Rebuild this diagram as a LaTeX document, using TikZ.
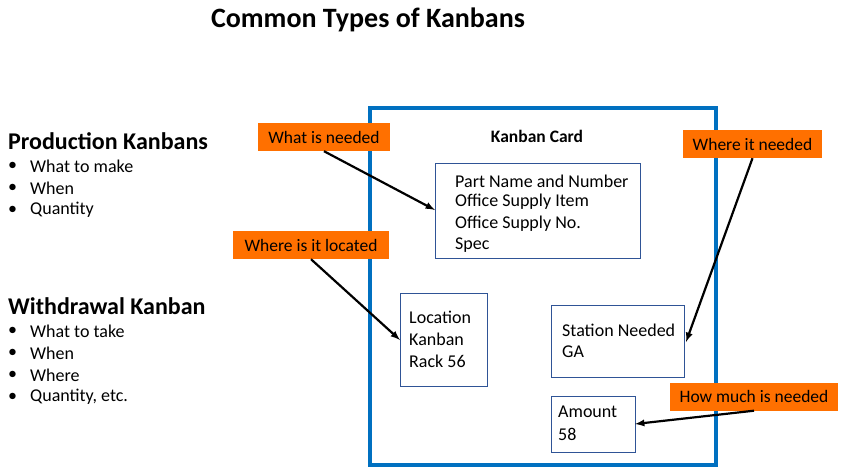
\documentclass[tikz,border=0pt]{standalone}
\usepackage{fontspec}
\setmainfont{Carlito}
\begin{document}
\begin{tikzpicture}[x=1pt,y=-1pt,
  txt/.style={anchor=west,inner sep=0pt,font=\fontsize{18}{21}\selectfont},
  lab/.style={fill=orange1,inner sep=0pt,font=\fontsize{17.5}{21}\selectfont,minimum height=28pt},
  box/.style={draw=dblue,line width=1.3pt},
  arr/.style={-latex,line width=2.2pt,black}]
\definecolor{orange1}{RGB}{255,112,0}
\definecolor{blue1}{RGB}{0,112,192}
\definecolor{dblue}{RGB}{47,84,150}
\useasboundingbox (0,0) rectangle (845,472);
\node[font=\bfseries\fontsize{28}{32}\selectfont] (title) at (368,20) {Common Types of Kanbans};
\draw[blue1,line width=4pt] (370,108) rectangle (716,465);
\node[font=\bfseries\fontsize{17.5}{20}\selectfont] (kc) at (537,136) {Kanban Card};
\node[box,minimum width=205pt,minimum height=95pt,anchor=north west] (b1) at (435,163) {};
\node[txt] (b1a) at (455,181) {Part Name and Number};
\node[txt] (b1b) at (455,202) {Office Supply Item};
\node[txt] (b1c) at (455,224) {Office Supply No.};
\node[txt] (b1d) at (455,245) {Spec};
\node[box,minimum width=87pt,minimum height=93pt,anchor=north west] (b2) at (400,293) {};
\node[txt] (b2a) at (409,317) {Location};
\node[txt] (b2b) at (409,339) {Kanban};
\node[txt] (b2c) at (409,361) {Rack 56};
\node[box,minimum width=133pt,minimum height=72pt,anchor=north west] (b3) at (551,305) {};
\node[txt] (b3a) at (562,330) {Station Needed};
\node[txt] (b3b) at (562,352) {GA};
\node[box,minimum width=84pt,minimum height=56pt,anchor=north west] (b4) at (551,396) {};
\node[txt] (b4a) at (558,412) {Amount};
\node[txt] (b4b) at (558,434) {58};
\node[lab,minimum width=132pt] (l1) at (324,137) {What is needed};
\node[lab,minimum width=139pt] (l2) at (752.5,144) {Where it needed};
\node[lab,minimum width=156pt] (l3) at (311,245) {Where is it located};
\node[lab,minimum width=168pt] (l4) at (754,396.5) {How much is needed};
\coordinate (t1) at (435,210);
\coordinate (t2) at (686,342);
\coordinate (t3) at (400,340);
\coordinate (t4) at (635,424);
\draw[arr] (l1.south) -- (t1);
\draw[arr] (l2.south) -- (t2);
\draw[arr] (l3.south) -- (t3);
\draw[arr] (l4.south) -- (t4);
\node[txt,font=\bfseries\fontsize{24}{28}\selectfont] (pk) at (8,141) {Production Kanbans};
\foreach \t/\y/\n in {What to make/166/p1,When/188/p2,Quantity/210/p3,What to take/331/w1,When/353/w2,Where/375/w3,{Quantity, etc.}/397/w4}{
  \node[txt] (\n b) at (8,\y) {\textbullet};
  \node[txt] (\n) at (30,\y) {\t};
}
\node[txt,font=\bfseries\fontsize{24}{28}\selectfont] (wk) at (8,306) {Withdrawal Kanban};
\end{tikzpicture}
\end{document}
